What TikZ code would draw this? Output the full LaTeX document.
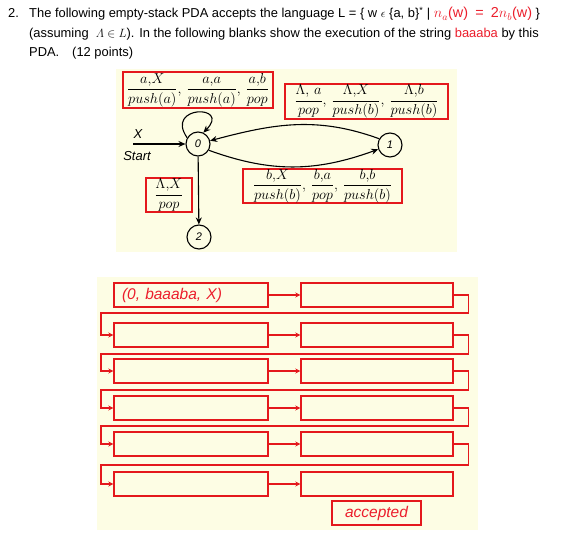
\documentclass[tikz,border=0pt]{standalone}
\usepackage[]{amsmath}
\usepackage[]{fontspec}
\setmainfont{Liberation Sans}
\usepackage[]{tikz}
\usetikzlibrary{arrows.meta}
\usetikzlibrary{positioning}
\definecolor{paper}{RGB}{253,253,228}
\definecolor{boxred}{RGB}{228,24,28}
\definecolor{txtred}{RGB}{236,30,44}
\tikzset{edge/.style = {-{Stealth[length=7pt,width=6pt]}, line width=1.1pt}}
\tikzset{state/.style = {draw, circle, line width=1.1pt, minimum size=24, inner sep=0, font=\fontsize{11}{11}\selectfont\itshape}}
\tikzset{lab/.style = {draw=boxred, line width=1.4pt, inner sep=0, font=\fontsize{14}{16}\selectfont}}
\tikzset{blank/.style = {draw=boxred, line width=1.4pt, minimum height=24, inner sep=0}}
\tikzset{go/.style = {-{Stealth[length=5pt,width=5pt]}, boxred, line width=1.1pt}}
\tikzset{hdr/.style = {anchor=base west, inner sep=0, font=\fontsize{12.9}{16}\selectfont}}
\tikzset{filled/.style = {text=txtred, font=\fontsize{15.5}{17}\selectfont\itshape}}

\begin{document}
\begin{tikzpicture}[x=1pt,y=1pt]
        \fill [white] (0,0) rectangle (572,-553);
        % question
        \node [hdr] (num) at (8,-18) {2.};
        \node [hdr] (line1) at (29,-18) {The following empty-stack PDA accepts the language L = \{ w $\epsilon$ \{a, b\}\textsuperscript{*} | \textcolor{txtred}{\fontsize{14.4}{16}\selectfont$n_a$(w)\enspace=\enspace2$n_b$(w)} \}};
        \node [hdr] (line2) at (29,-38) {(assuming \ $\mathnormal{\Lambda}\in L$). In the following blanks show the execution of the string \textcolor{txtred}{baaaba} by this};
        \node [hdr] (line3) at (29,-57) {PDA.\quad (12 points)};
        % the PDA
        \fill [paper] (116,-69) rectangle (457,-252);
        \node [state] (s0) at (198,-144) {0};
        \node [state] (s1) at (390,-145) {1};
        \node [state] (s2) at (199,-237) {2};
        \coordinate (start) at (133,-144);
        \node [font=\fontsize{13}{13}\selectfont\itshape] (xin) at (138,-134) {X};
        \node [font=\fontsize{13}{13}\selectfont\itshape] (startlab) at (137,-156) {Start};
        \draw [edge] (start) -- (s0);
        \draw [edge] (s0.150) .. controls +(125:40) and +(45:40) .. (s0.65);
        \draw [edge] (s1.150) to[out=160, in=15] (s0.15);
        \draw [edge] (s0.-30) to[out=-20, in=200] (s1.200);
        \draw [edge] (s0) -- (s2);
        \node [lab, minimum width=150, minimum height=36] (looplab) at (198,-90) {$\dfrac{a{,}X}{push(a)},\,\dfrac{a{,}a}{push(a)},\,\dfrac{a{,}b}{pop}$};
        \node [lab, minimum width=163, minimum height=35] (backlab) at (366.5,-101.5) {$\dfrac{\Lambda,\,a}{pop},\,\dfrac{\Lambda{,}X}{push(b)},\,\dfrac{\Lambda{,}b}{push(b)}$};
        \node [lab, minimum width=46, minimum height=34] (poplab) at (169,-195) {$\dfrac{\Lambda{,}X}{pop}$};
        \node [lab, minimum width=159, minimum height=34] (forthlab) at (322.5,-186) {$\dfrac{b{,}X}{push(b)},\,\dfrac{b{,}a}{pop},\,\dfrac{b{,}b}{push(b)}$};
        % the blanks
        \fill [paper] (97,-277) rectangle (478,-530);
        \node [blank, filled, text width=138, inner xsep=8, align=left] (l1) at (191,-295) {(0, baaaba, X)};
        \node [blank, minimum width=152] (r1) at (377,-295) {};
        \node [blank, minimum width=154] (l2) at (191,-335) {};
        \node [blank, minimum width=152] (r2) at (377,-335) {};
        \node [blank, minimum width=154] (l3) at (191,-371) {};
        \node [blank, minimum width=152] (r3) at (377,-371) {};
        \node [blank, minimum width=154] (l4) at (191,-408) {};
        \node [blank, minimum width=152] (r4) at (377,-408) {};
        \node [blank, minimum width=154] (l5) at (191,-444) {};
        \node [blank, minimum width=152] (r5) at (377,-444) {};
        \node [blank, minimum width=154] (l6) at (191,-484) {};
        \node [blank, minimum width=152] (r6) at (377,-484) {};
        \node [blank, filled, minimum width=89] (acc) at (376.5,-513) {accepted};
        \coordinate (g1) at (101,-313);
        \coordinate (g2) at (101,-354);
        \coordinate (g3) at (101,-390);
        \coordinate (g4) at (101,-426);
        \coordinate (g5) at (101,-465);
        \draw [go] (l1) -- (r1);
        \draw [go] (l2) -- (r2);
        \draw [go] (l3) -- (r3);
        \draw [go] (l4) -- (r4);
        \draw [go] (l5) -- (r5);
        \draw [go] (l6) -- (r6);
        \draw [go] (r1.east) -- ++(15,0) |- (g1) |- (l2.west);
        \draw [go] (r2.east) -- ++(15,0) |- (g2) |- (l3.west);
        \draw [go] (r3.east) -- ++(15,0) |- (g3) |- (l4.west);
        \draw [go] (r4.east) -- ++(15,0) |- (g4) |- (l5.west);
        \draw [go] (r5.east) -- ++(15,0) |- (g5) |- (l6.west);
    \end{tikzpicture}
\end{document}
